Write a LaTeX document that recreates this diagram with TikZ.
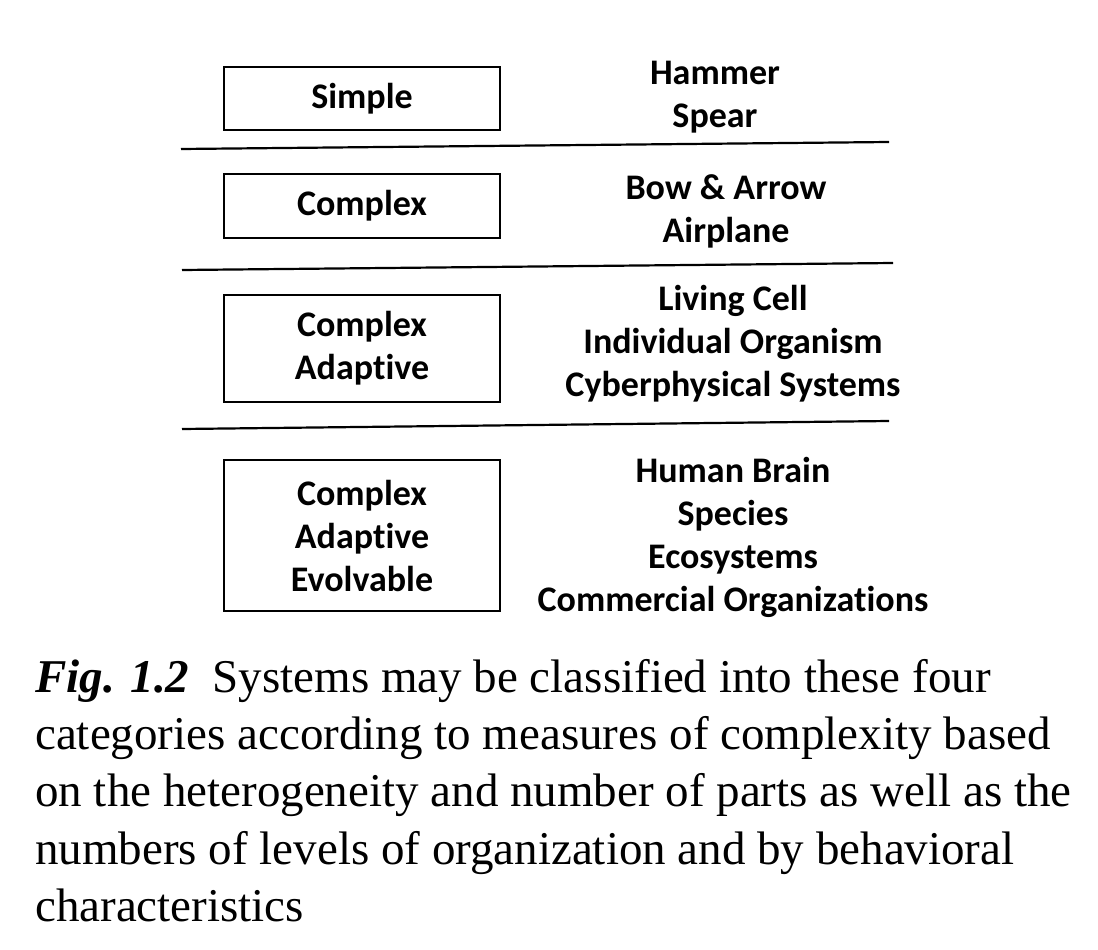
\documentclass[tikz,border=0pt]{standalone}
\usepackage{fontspec}
\newfontfamily\diag[Ligatures=NoCommon]{Carlito}
\newfontfamily\capfont{Liberation Serif}
\begin{document}
\begin{tikzpicture}[x=1pt,y=-1pt,
  catbox/.style={draw,line width=2.8pt,minimum width=276pt,inner sep=0pt,align=center,
    font=\diag\bfseries\fontsize{36}{43}\selectfont},
  items/.style={align=center,inner sep=0pt,font=\diag\bfseries\fontsize{36}{43}\selectfont},
  sep/.style={line width=2.2pt},
  capline/.style={anchor=base west,inner sep=0pt,font=\capfont\fontsize{47}{50}\selectfont}]
\useasboundingbox (0,0) rectangle (1098,950);
% boxes
\node[catbox,minimum height=63pt] (b1) at (362,98.5) {Simple};
\node[catbox,minimum height=64pt] (b2) at (362,206) {Complex};
\node[catbox,minimum height=107pt] (b3) at (362,348.5) {Complex\\Adaptive};
\node[catbox,minimum height=151pt] (b4) at (362,535.5) {Complex\\Adaptive\\Evolvable};
% examples
\node[items] (e1) at (715,97) {Hammer\\Spear};
\node[items] (e2) at (726,211) {Bow \& Arrow\\Airplane};
\node[items] (e3) at (733,344) {Living Cell\\Individual Organism\\Cyberphysical Systems};
\node[items] (e4) at (733,537) {Human Brain\\Species\\Ecosystems\\Commercial Organizations};
% separators
\coordinate (l1a) at (181,149); \coordinate (l1b) at (889,142);
\coordinate (l2a) at (182,270); \coordinate (l2b) at (893,263);
\coordinate (l3a) at (182,429); \coordinate (l3b) at (889,421);
\draw[sep] (l1a) -- (l1b);
\draw[sep] (l2a) -- (l2b);
\draw[sep] (l3a) -- (l3b);
% caption
\node[capline] (c1) at (35,692) {\textbf{\textit{Fig. 1.2}}\hspace{0.5em}Systems may be classified into these four};
\node[capline] (c2) at (35,749) {categories according to measures of complexity based};
\node[capline] (c3) at (35,806) {on the heterogeneity and number of parts as well as the};
\node[capline] (c4) at (35,864) {numbers of levels of organization and by behavioral};
\node[capline] (c5) at (35,921) {characteristics};
\end{tikzpicture}
\end{document}
